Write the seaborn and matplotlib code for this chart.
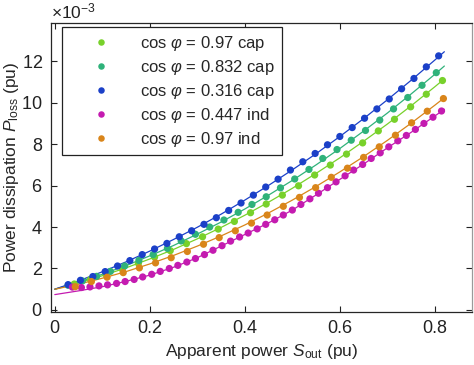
import matplotlib
matplotlib.use("Agg")
import matplotlib.pyplot as plt
from matplotlib.ticker import FixedLocator, FixedFormatter
import seaborn as sns
import pandas as pd

# values in units of 1e-3 pu
labels = [r"cos $\varphi$ = 0.97 cap", r"cos $\varphi$ = 0.832 cap", r"cos $\varphi$ = 0.316 cap",
          r"cos $\varphi$ = 0.447 ind", r"cos $\varphi$ = 0.97 ind"]
colors = ["#78d12b", "#2fb27a", "#1b40c8", "#c41bb0", "#d9851a"]

green_s = [0.041, 0.075, 0.108, 0.142, 0.176, 0.210, 0.243, 0.277, 0.311, 0.344, 0.378, 0.412,
           0.445, 0.479, 0.513, 0.547, 0.580, 0.614, 0.648, 0.681, 0.715, 0.749, 0.782, 0.816]
green_p = [1.25, 1.47, 1.71, 1.97, 2.25, 2.55, 2.86, 3.20, 3.53, 3.90, 4.27, 4.69,
           5.11, 5.54, 5.99, 6.51, 6.99, 7.52, 8.06, 8.64, 9.20, 9.80, 10.41, 11.07]

teal_s = [0.028, 0.058, 0.088, 0.117, 0.147, 0.177, 0.207, 0.237, 0.266, 0.296, 0.326, 0.356, 0.386, 0.415,
          0.445, 0.475, 0.505, 0.535, 0.564, 0.594, 0.624, 0.654, 0.684, 0.713, 0.743, 0.773, 0.803]
teal_p = [1.19, 1.40, 1.62, 1.86, 2.12, 2.39, 2.67, 2.97, 3.33, 3.65, 4.00, 4.34, 4.71, 5.09,
          5.46, 5.89, 6.32, 6.78, 7.31, 7.74, 8.19, 8.66, 9.16, 9.70, 10.25, 10.84, 11.45]

blue_s = [0.028, 0.054, 0.080, 0.106, 0.132, 0.158, 0.184, 0.210, 0.236, 0.262, 0.288, 0.314, 0.340, 0.366, 0.392, 0.418,
          0.444, 0.470, 0.496, 0.522, 0.548, 0.574, 0.600, 0.626, 0.652, 0.678, 0.704, 0.730, 0.756, 0.782, 0.808]
blue_p = [1.22, 1.43, 1.61, 1.85, 2.12, 2.38, 2.67, 2.94, 3.21, 3.53, 3.82, 4.13, 4.45, 4.80, 5.16, 5.54,
          5.93, 6.31, 6.75, 7.15, 7.55, 7.97, 8.37, 8.80, 9.25, 9.70, 10.18, 10.67, 11.17, 11.73, 12.26]

magenta_s = [0.037, 0.056, 0.074, 0.093, 0.111, 0.130, 0.148, 0.167, 0.185, 0.204,
             0.222, 0.241, 0.259, 0.278, 0.296, 0.315, 0.333, 0.352, 0.370, 0.389,
             0.407, 0.426, 0.444, 0.463, 0.481, 0.500, 0.518, 0.537, 0.555, 0.574,
             0.592, 0.611, 0.629, 0.648, 0.666, 0.685, 0.703, 0.722, 0.740, 0.759,
             0.777, 0.796, 0.814]
magenta_p = [1.10, 1.08, 1.11, 1.16, 1.21, 1.28, 1.37, 1.47, 1.59, 1.72,
             1.86, 2.00, 2.15, 2.31, 2.48, 2.67, 2.88, 3.10, 3.32, 3.52,
             3.71, 3.91, 4.13, 4.35, 4.58, 4.82, 5.09, 5.36, 5.63, 5.90,
             6.18, 6.47, 6.75, 7.02, 7.31, 7.58, 7.87, 8.16, 8.42, 8.71,
             9.00, 9.30, 9.60]

orange_s = [0.043, 0.077, 0.110, 0.144, 0.178, 0.212, 0.245, 0.279, 0.313, 0.346, 0.380, 0.414,
            0.447, 0.481, 0.515, 0.549, 0.582, 0.616, 0.650, 0.683, 0.717, 0.751, 0.784, 0.818]
orange_p = [1.12, 1.37, 1.58, 1.80, 2.03, 2.27, 2.52, 2.82, 3.17, 3.49, 3.82, 4.19,
            4.58, 5.00, 5.43, 5.90, 6.40, 6.84, 7.36, 7.87, 8.43, 9.03, 9.59, 10.20]

# fitted curves
fit_s = [0.0, 0.05, 0.10, 0.15, 0.20, 0.25, 0.30, 0.35, 0.40, 0.45, 0.50, 0.55, 0.60, 0.65, 0.70, 0.75, 0.80, 0.82]
green_fit = [1.00, 1.30, 1.65, 2.03, 2.46, 2.92, 3.43, 3.98, 4.57, 5.20, 5.87, 6.59, 7.34, 8.14, 8.97, 9.85, 10.77, 11.15]
teal_fit = [1.00, 1.34, 1.72, 2.14, 2.61, 3.11, 3.66, 4.24, 4.87, 5.54, 6.25, 7.00, 7.79, 8.63, 9.50, 10.42, 11.37, 11.77]
blue_fit = [1.00, 1.40, 1.84, 2.32, 2.84, 3.40, 3.99, 4.62, 5.30, 6.01, 6.76, 7.54, 8.37, 9.23, 10.14, 11.08, 12.06, 12.46]
magenta_fit = [0.74, 0.92, 1.12, 1.38, 1.68, 2.06, 2.52, 3.08, 3.64, 4.20, 4.82, 5.55, 6.30, 7.04, 7.82, 8.57, 9.36, 9.68]
orange_fit = [1.00, 1.24, 1.53, 1.85, 2.22, 2.63, 3.08, 3.57, 4.10, 4.68, 5.30, 5.96, 6.66, 7.40, 8.18, 9.01, 9.88, 10.24]

xticks = [0, 0.2, 0.4, 0.6, 0.8]
xtick_labels = ["0", "0.2", "0.4", "0.6", "0.8"]
yticks = [0, 2, 4, 6, 8, 10, 12]

if __name__ == "__main__":
    sns.set_style("white")
    plt.rcParams["font.family"] = ["Liberation Sans", "DejaVu Sans"]
    plt.rcParams["mathtext.fontset"] = "custom"
    plt.rcParams["mathtext.rm"] = "Liberation Sans"
    plt.rcParams["mathtext.it"] = "Liberation Sans:italic"
    plt.rcParams["mathtext.bf"] = "Liberation Sans:bold"

    dots = []
    for lab, s, p in zip(labels, [green_s, teal_s, blue_s, magenta_s, orange_s],
                         [green_p, teal_p, blue_p, magenta_p, orange_p]):
        dots.append(pd.DataFrame({"S": s, "P": [v * 1e-3 for v in p], "case": lab}))
    df_dots = pd.concat(dots, ignore_index=True)

    fits = []
    for lab, p in zip(labels, [green_fit, teal_fit, blue_fit, magenta_fit, orange_fit]):
        fits.append(pd.DataFrame({"S": fit_s, "P": [v * 1e-3 for v in p], "case": lab}))
    df_fit = pd.concat(fits, ignore_index=True)

    palette = dict(zip(labels, colors))

    fig = plt.figure(figsize=(4.74, 3.65), dpi=100)
    ax = fig.add_axes([0.1076, 0.1452, 0.888, 0.792])

    sns.lineplot(data=df_fit, x="S", y="P", hue="case", hue_order=labels, palette=palette,
                 linewidth=0.9, legend=False, ax=ax, sort=False, zorder=2)
    sns.scatterplot(data=df_dots, x="S", y="P", hue="case", hue_order=labels, palette=palette,
                    s=27, edgecolor="none", ax=ax, zorder=3)

    ax.set_xlim(-0.008, 0.878)
    ax.set_ylim(-0.1e-3, 13.85e-3)
    ax.xaxis.set_major_locator(FixedLocator(xticks))
    ax.xaxis.set_major_formatter(FixedFormatter(xtick_labels))
    ax.set_yticks([v * 1e-3 for v in yticks])
    ax.ticklabel_format(axis="y", style="sci", scilimits=(-3, -3), useMathText=True)
    ax.yaxis.get_offset_text().set_fontsize(12.5)

    ax.tick_params(direction="in", length=4, width=0.8, labelsize=13, colors="#222222",
                   top=True, right=True, bottom=True, left=True, pad=6)
    for side in ["left", "bottom", "top"]:
        ax.spines[side].set_color("#262626")
        ax.spines[side].set_linewidth(0.9)
    ax.spines["right"].set_color("#9a9a9a")
    ax.spines["right"].set_linewidth(0.9)

    ax.set_xlabel(r"Apparent power $S_{\mathrm{out}}$ (pu)", fontsize=12.5, labelpad=3)
    ax.set_ylabel(r"Power dissipation $P_{\mathrm{loss}}$ (pu)", fontsize=12.5, labelpad=0)

    handles, labs = ax.get_legend_handles_labels()
    leg = ax.legend(handles, labs, loc="upper left", bbox_to_anchor=(0.026, 0.986), fontsize=12,
                    frameon=True, fancybox=False, framealpha=1, edgecolor="#222222",
                    handlelength=3.9, handletextpad=0.4, labelspacing=0.3, borderpad=0.4,
                    borderaxespad=0, markerscale=0.9)
    leg.get_frame().set_linewidth(0.9)

    fig.savefig("out.png", dpi=100)
